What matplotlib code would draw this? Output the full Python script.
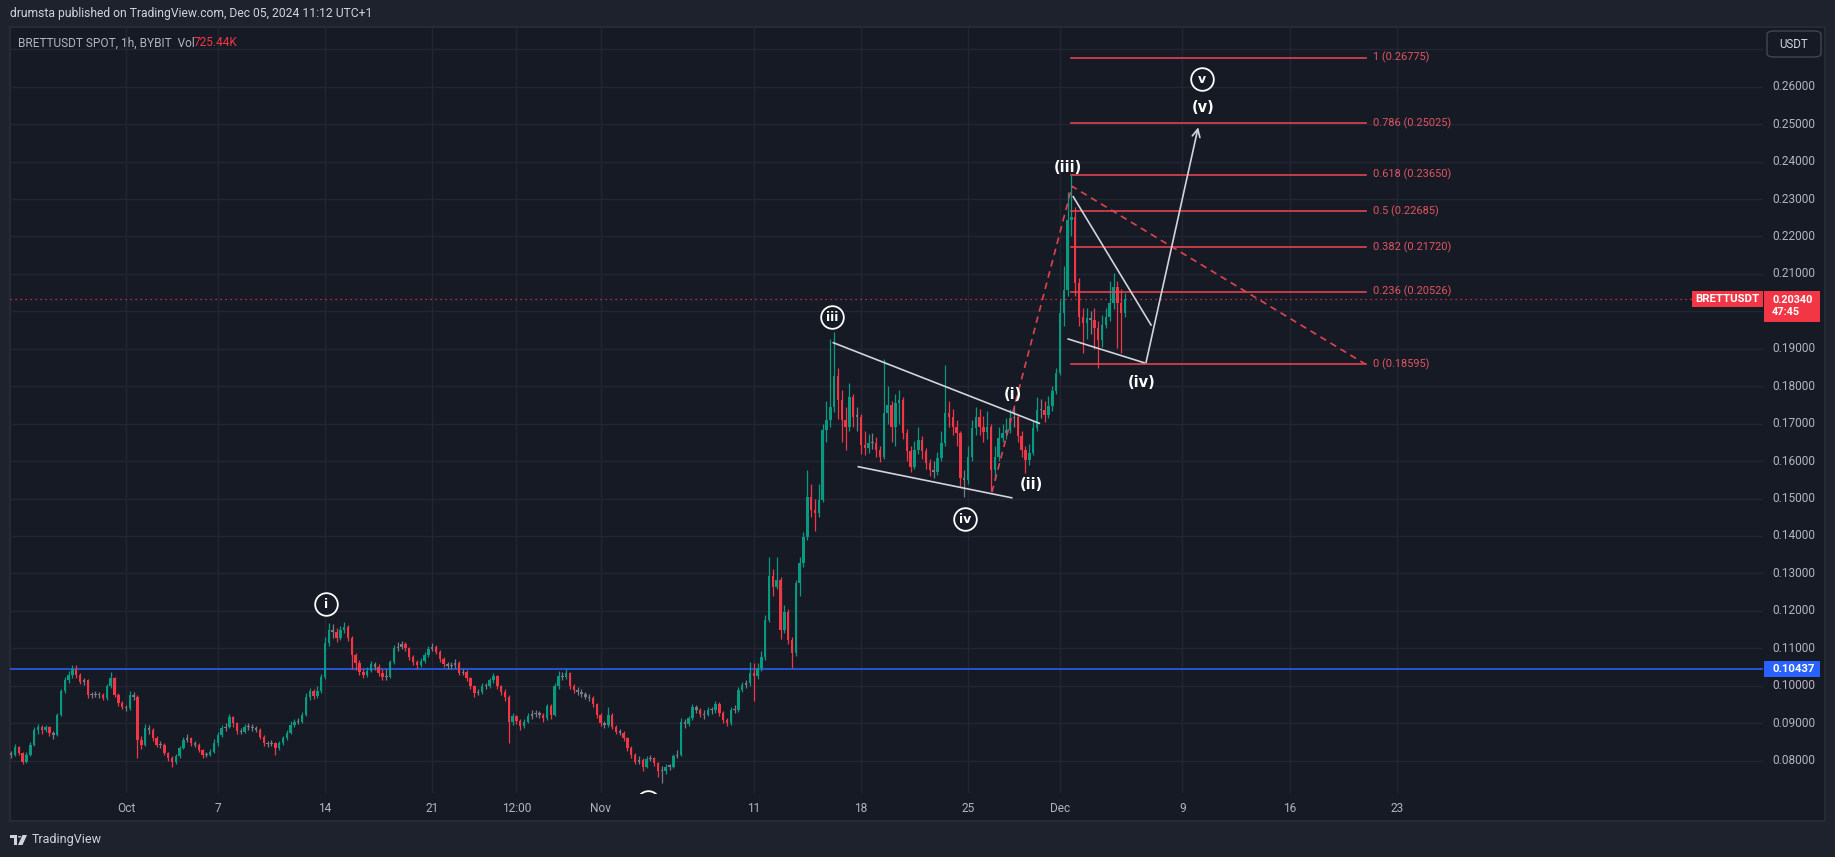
import matplotlib
matplotlib.use('Agg')
import matplotlib.pyplot as plt
from matplotlib.patches import Rectangle, FancyBboxPatch, Polygon, Circle
from matplotlib.transforms import blended_transform_factory
import numpy as np

# ---------------- data (6h candles) ----------------
first_open = 0.0820
closes = [
    0.0815, 0.0837, 0.0820, 0.0797, 0.0815, 0.0842, 0.0882, 0.0891, 0.0882, 0.0891,
    0.0873, 0.0869, 0.0922, 0.0985, 0.1015, 0.1029, 0.1044, 0.1029, 0.1011, 0.1015,
    0.0975, 0.0975, 0.0975, 0.0975, 0.0966, 0.0998, 0.1020, 0.0975, 0.0953, 0.0944,
    0.0940, 0.0975, 0.0971, 0.0855, 0.0842, 0.0886, 0.0882, 0.0860, 0.0842, 0.0842,
    0.0820, 0.0806, 0.0797, 0.0811, 0.0833, 0.0855, 0.0860, 0.0846, 0.0842, 0.0828,
    0.0815, 0.0815, 0.0824, 0.0846, 0.0869, 0.0886, 0.0891, 0.0916, 0.0900, 0.0880,
    0.0877, 0.0889, 0.0891, 0.0886, 0.0882, 0.0864, 0.0846, 0.0844, 0.0846, 0.0833,
    0.0846, 0.0860, 0.0875, 0.0895, 0.0904, 0.0904, 0.0922, 0.0971, 0.0987, 0.0973,
    0.0985, 0.1024, 0.1113, 0.1149, 0.1144, 0.1127, 0.1149, 0.1158, 0.1127, 0.1082,
    0.1060, 0.1038, 0.1029, 0.1040, 0.1058, 0.1051, 0.1035, 0.1024, 0.1024, 0.1064,
    0.1100, 0.1104, 0.1111, 0.1100, 0.1078, 0.1064, 0.1055, 0.1067, 0.1082, 0.1097,
    0.1104, 0.1091, 0.1071, 0.1058, 0.1053, 0.1055, 0.1062, 0.1035, 0.1038, 0.1020,
    0.0998, 0.0980, 0.0984, 0.0999, 0.0998, 0.1015, 0.1026, 0.0999, 0.0984, 0.0971,
    0.0904, 0.0918, 0.0907, 0.0893, 0.0904, 0.0918, 0.0925, 0.0927, 0.0922, 0.0913,
    0.0946, 0.0922, 0.0998, 0.1027, 0.1024, 0.1033, 0.0998, 0.0989, 0.0984, 0.0977,
    0.0971, 0.0966, 0.0951, 0.0922, 0.0900, 0.0895, 0.0922, 0.0891, 0.0877, 0.0875,
    0.0860, 0.0833, 0.0815, 0.0797, 0.0802, 0.0784, 0.0804, 0.0806, 0.0793, 0.0771,
    0.0773, 0.0784, 0.0784, 0.0811, 0.0816, 0.0904, 0.0898, 0.0913, 0.0943, 0.0936,
    0.0925, 0.0922, 0.0934, 0.0934, 0.0952, 0.0928, 0.0909, 0.0900, 0.0934, 0.0936,
    0.0989, 0.1002, 0.1007, 0.1034, 0.1025, 0.1047, 0.1078, 0.1176, 0.1292, 0.1265,
    0.1283, 0.1149, 0.1198, 0.1123, 0.1087, 0.1274, 0.1327, 0.1398, 0.1505, 0.1470,
    0.1461, 0.1496, 0.1683, 0.1710, 0.1745, 0.1826, 0.1763, 0.1710, 0.1692, 0.1772,
    0.1719, 0.1719, 0.1643, 0.1634, 0.1648, 0.1648, 0.1630, 0.1612, 0.1728, 0.1750,
    0.1692, 0.1755, 0.1763, 0.1674, 0.1626, 0.1585, 0.1630, 0.1657, 0.1626, 0.1594,
    0.1577, 0.1572, 0.1608, 0.1648, 0.1728, 0.1719, 0.1692, 0.1674, 0.1554, 0.1550,
    0.1612, 0.1688, 0.1719, 0.1692, 0.1679, 0.1692, 0.1577, 0.1612, 0.1661, 0.1674,
    0.1683, 0.1715, 0.1719, 0.1666, 0.1630, 0.1603, 0.1621, 0.1688, 0.1737, 0.1737,
    0.1723, 0.1746, 0.1786, 0.1835, 0.1995, 0.2057, 0.2244, 0.2253, 0.2075, 0.1986,
    0.1968, 0.1982, 0.1977, 0.1955, 0.1924, 0.1964, 0.1986, 0.2022, 0.2066, 0.2022,
    0.1995, 0.2034,
]
highs = [
    0.0826, 0.0845, 0.0840, 0.0824, 0.0822, 0.0849, 0.0890, 0.0897, 0.0895, 0.0896,
    0.0893, 0.0880, 0.0928, 0.0992, 0.1024, 0.1040, 0.1056, 0.1055, 0.1033, 0.1022,
    0.1018, 0.0984, 0.0986, 0.0982, 0.0980, 0.1004, 0.1037, 0.1024, 0.0980, 0.0958,
    0.0949, 0.0985, 0.0982, 0.0975, 0.0866, 0.0898, 0.0896, 0.0888, 0.0866, 0.0852,
    0.0846, 0.0824, 0.0812, 0.0818, 0.0840, 0.0862, 0.0870, 0.0864, 0.0852, 0.0846,
    0.0832, 0.0822, 0.0830, 0.0858, 0.0876, 0.0894, 0.0900, 0.0925, 0.0920, 0.0904,
    0.0888, 0.0898, 0.0900, 0.0897, 0.0893, 0.0886, 0.0868, 0.0852, 0.0854, 0.0850,
    0.0852, 0.0866, 0.0882, 0.0906, 0.0912, 0.0915, 0.0930, 0.0980, 0.0995, 0.0990,
    0.0998, 0.1032, 0.1130, 0.1167, 0.1165, 0.1155, 0.1160, 0.1170, 0.1162, 0.1132,
    0.1088, 0.1068, 0.1046, 0.1050, 0.1066, 0.1064, 0.1058, 0.1045, 0.1044, 0.1070,
    0.1108, 0.1116, 0.1120, 0.1118, 0.1104, 0.1082, 0.1070, 0.1074, 0.1090, 0.1106,
    0.1114, 0.1110, 0.1096, 0.1076, 0.1064, 0.1064, 0.1072, 0.1066, 0.1046, 0.1042,
    0.1024, 0.1002, 0.0992, 0.1006, 0.1008, 0.1022, 0.1035, 0.1030, 0.1003, 0.0990,
    0.0975, 0.0926, 0.0922, 0.0912, 0.0912, 0.0926, 0.0934, 0.0936, 0.0932, 0.0926,
    0.0952, 0.0950, 0.1006, 0.1040, 0.1038, 0.1046, 0.1038, 0.1004, 0.0996, 0.0990,
    0.0984, 0.0978, 0.0972, 0.0955, 0.0926, 0.0906, 0.0942, 0.0926, 0.0896, 0.0884,
    0.0878, 0.0864, 0.0838, 0.0820, 0.0812, 0.0806, 0.0812, 0.0816, 0.0810, 0.0796,
    0.0786, 0.0792, 0.0790, 0.0818, 0.0828, 0.0915, 0.0912, 0.0920, 0.0952, 0.0948,
    0.0940, 0.0934, 0.0944, 0.0942, 0.0960, 0.0956, 0.0932, 0.0914, 0.0944, 0.0948,
    0.0996, 0.1010, 0.1016, 0.1064, 0.1060, 0.1060, 0.1092, 0.1190, 0.1345, 0.1312,
    0.1345, 0.1290, 0.1215, 0.1205, 0.1130, 0.1282, 0.1345, 0.1410, 0.1576, 0.1540,
    0.1500, 0.1540, 0.1700, 0.1760, 0.1925, 0.1946, 0.1850, 0.1790, 0.1745, 0.1808,
    0.1780, 0.1745, 0.1725, 0.1680, 0.1672, 0.1676, 0.1665, 0.1640, 0.1872, 0.1800,
    0.1760, 0.1780, 0.1790, 0.1770, 0.1685, 0.1640, 0.1655, 0.1690, 0.1668, 0.1635,
    0.1605, 0.1600, 0.1625, 0.1680, 0.1857, 0.1760, 0.1740, 0.1710, 0.1680, 0.1575,
    0.1640, 0.1710, 0.1745, 0.1740, 0.1720, 0.1735, 0.1700, 0.1640, 0.1690, 0.1700,
    0.1715, 0.1740, 0.1750, 0.1725, 0.1680, 0.1640, 0.1645, 0.1710, 0.1770, 0.1765,
    0.1760, 0.1775, 0.1800, 0.1850, 0.2030, 0.2120, 0.2320, 0.2364, 0.2280, 0.2090,
    0.2010, 0.2010, 0.2000, 0.2010, 0.1975, 0.1990, 0.2010, 0.2080, 0.2102, 0.2080,
    0.2060, 0.2050,
]
lows = [
    0.0808, 0.0812, 0.0814, 0.0790, 0.0794, 0.0812, 0.0838, 0.0872, 0.0871, 0.0876,
    0.0866, 0.0858, 0.0866, 0.0918, 0.0980, 0.1008, 0.1022, 0.1020, 0.1004, 0.1002,
    0.0966, 0.0968, 0.0969, 0.0966, 0.0962, 0.0962, 0.0994, 0.0970, 0.0946, 0.0937,
    0.0932, 0.0936, 0.0962, 0.0806, 0.0830, 0.0838, 0.0872, 0.0852, 0.0836, 0.0834,
    0.0814, 0.0798, 0.0784, 0.0792, 0.0808, 0.0830, 0.0850, 0.0838, 0.0836, 0.0822,
    0.0808, 0.0809, 0.0811, 0.0820, 0.0840, 0.0862, 0.0878, 0.0886, 0.0890, 0.0872,
    0.0870, 0.0873, 0.0882, 0.0879, 0.0876, 0.0857, 0.0838, 0.0837, 0.0838, 0.0815,
    0.0828, 0.0842, 0.0855, 0.0870, 0.0890, 0.0897, 0.0900, 0.0918, 0.0962, 0.0964,
    0.0968, 0.0980, 0.1018, 0.1105, 0.1128, 0.1118, 0.1122, 0.1140, 0.1120, 0.1044,
    0.1042, 0.1030, 0.1020, 0.1024, 0.1036, 0.1042, 0.1026, 0.1016, 0.1016, 0.1020,
    0.1058, 0.1094, 0.1098, 0.1092, 0.1070, 0.1056, 0.1044, 0.1050, 0.1062, 0.1078,
    0.1094, 0.1084, 0.1064, 0.1050, 0.1044, 0.1046, 0.1048, 0.1028, 0.1028, 0.1012,
    0.0990, 0.0970, 0.0974, 0.0978, 0.0990, 0.0994, 0.1008, 0.0992, 0.0975, 0.0960,
    0.0846, 0.0896, 0.0898, 0.0882, 0.0886, 0.0900, 0.0912, 0.0916, 0.0914, 0.0904,
    0.0908, 0.0910, 0.0918, 0.0992, 0.1016, 0.1018, 0.0990, 0.0980, 0.0976, 0.0970,
    0.0964, 0.0958, 0.0944, 0.0914, 0.0892, 0.0886, 0.0890, 0.0884, 0.0870, 0.0868,
    0.0852, 0.0826, 0.0808, 0.0790, 0.0792, 0.0772, 0.0780, 0.0798, 0.0786, 0.0755,
    0.0740, 0.0764, 0.0776, 0.0780, 0.0806, 0.0812, 0.0886, 0.0892, 0.0908, 0.0926,
    0.0916, 0.0912, 0.0918, 0.0924, 0.0928, 0.0920, 0.0900, 0.0892, 0.0896, 0.0926,
    0.0930, 0.0982, 0.0994, 0.1000, 0.0958, 0.1018, 0.1040, 0.1070, 0.1170, 0.1240,
    0.1258, 0.1126, 0.1140, 0.1112, 0.1047, 0.1080, 0.1240, 0.1318, 0.1390, 0.1450,
    0.1412, 0.1450, 0.1490, 0.1650, 0.1690, 0.1730, 0.1712, 0.1650, 0.1630, 0.1680,
    0.1690, 0.1680, 0.1618, 0.1615, 0.1622, 0.1632, 0.1612, 0.1598, 0.1605, 0.1700,
    0.1650, 0.1640, 0.1700, 0.1660, 0.1600, 0.1570, 0.1578, 0.1620, 0.1605, 0.1580,
    0.1560, 0.1555, 0.1562, 0.1600, 0.1640, 0.1690, 0.1670, 0.1640, 0.1530, 0.1505,
    0.1540, 0.1600, 0.1670, 0.1670, 0.1650, 0.1660, 0.1519, 0.1550, 0.1600, 0.1650,
    0.1660, 0.1675, 0.1690, 0.1650, 0.1610, 0.1568, 0.1590, 0.1615, 0.1680, 0.1715,
    0.1705, 0.1715, 0.1735, 0.1780, 0.1830, 0.1960, 0.2040, 0.2200, 0.2040, 0.1960,
    0.1890, 0.1925, 0.1940, 0.1900, 0.1850, 0.1905, 0.1955, 0.1975, 0.2005, 0.1901,
    0.1890, 0.1985,
]
start_day = -7.5          # days from Oct 1 00:00 (first candle: Sep 23 12:00)
candle_days = 0.25        # 6h candles

# 0.20000 is hidden behind the last-price label in the reference
price_labels = [0.08, 0.09, 0.10, 0.11, 0.12, 0.13, 0.14, 0.15, 0.16, 0.17, 0.18,
                0.19, 0.21, 0.22, 0.23, 0.24, 0.25, 0.26]
grid_prices = [0.08, 0.09, 0.10, 0.11, 0.12, 0.13, 0.14, 0.15, 0.16, 0.17, 0.18,
               0.19, 0.20, 0.21, 0.22, 0.23, 0.24, 0.25, 0.26, 0.27]
time_ticks = [0, 6, 13, 20, 25.5, 31, 41, 48, 55, 61, 69, 76, 83]
time_labels = ['Oct', '7', '14', '21', '12:00', 'Nov', '11', '18', '25', 'Dec', '9', '16', '23']

fib_ratios = ['1', '0.786', '0.618', '0.5', '0.382', '0.236', '0']
fib_prices = [0.26775, 0.25025, 0.23650, 0.22685, 0.21720, 0.20526, 0.18595]
fib_x = (61.72, 81.0)

last_price = 0.20340
countdown = '47:45'
hline_price = 0.10437

# drawings (day, price)
wedge1_upper = ([46.2, 59.65], [0.19162, 0.1701])
wedge1_lower = ([47.83, 57.85], [0.1585, 0.1502])
wedge2_upper = ([61.87, 66.95], [0.23062, 0.19635])
wedge2_lower = ([61.54, 66.49], [0.19261, 0.18628])
arrow_from = (66.62, 0.18628)
arrow_to = (70.03, 0.24916)
fib_tool = ([56.56, 61.79, 80.93], [0.1517, 0.2334, 0.18595])

circled = [('i', 13.09, 0.1218), ('iii', 46.1, 0.1984), ('iv', 54.82, 0.1445),
           ('v', 70.26, 0.2620), ('ii', 34.1, 0.0689)]
paren = [('(i)', 57.95, 0.1778), ('(ii)', 59.16, 0.1538), ('(iii)', 61.51, 0.2384),
         ('(iv)', 66.35, 0.1809), ('(v)', 70.37, 0.2544)]

# ---------------- figure ----------------
W, H = 1835, 857
BG_OUT = '#1e222d'
BG_PANE = '#161a25'
GRID = '#232632'
TXT = '#b2b5be'
RED = '#f23645'
GREEN = '#089981'
GRAY = '#787b86'
FIB = '#e0434f'
WHITE_LN = '#d1d4dc'
FONT = ['Roboto', 'DejaVu Sans']

plt.rcParams['font.family'] = FONT
fig = plt.figure(figsize=(W / 100, H / 100), dpi=100, facecolor=BG_OUT)


def fx(px):
    return px / W


def fy(py):
    return 1 - py / H


def frect(x0, y0, x1, y1, **kw):
    r = Rectangle((fx(x0), fy(y1)), fx(x1) - fx(x0), fy(y0) - fy(y1),
                  transform=fig.transFigure, **kw)
    fig.patches.append(r)
    return r


# pane background + border
frect(10, 27, 1825, 821, facecolor=BG_PANE, edgecolor='#2a2e39', lw=1.2, zorder=-10)

ax = fig.add_axes([fx(10), fy(793), fx(1763) - fx(10), fy(27) - fy(793)])
ax.set_zorder(1)
ax.set_facecolor('none')
ax.patch.set_alpha(0)
ax.set_xlim(-7.577, 106.92)
ax.set_ylim(0.07135, 0.27595)
for s in ax.spines.values():
    s.set_visible(False)
ax.set_xticks([])
ax.set_yticks([])

# grid
for p in grid_prices:
    ax.axhline(p, color=GRID, lw=1, zorder=0)
for t in time_ticks:
    ax.axvline(t, color=GRID, lw=1, zorder=0)

# candles
c = np.array(closes)
o = np.concatenate([[first_open], c[:-1]])
hi = np.array(highs)
lo = np.array(lows)
x = start_day + candle_days * np.arange(len(c))
cols = []
for oo, cc in zip(o, c):
    if abs(cc - oo) < 0.0008:
        cols.append(GRAY)
    elif cc > oo:
        cols.append(GREEN)
    else:
        cols.append(RED)
ax.vlines(x, lo, hi, colors=cols, lw=0.9, zorder=3)
ax.bar(x, np.maximum(np.abs(c - o), 0.0003), bottom=np.minimum(o, c), width=0.16,
       color=cols, linewidth=0, zorder=3)

# horizontal lines
ax.axhline(hline_price, color='#2962ff', lw=1.1, zorder=2)
ax.axhline(last_price, color=RED, lw=0.9, ls=(0, (1, 3)), zorder=2)

# fib levels
for r, p in zip(fib_ratios, fib_prices):
    ax.plot(fib_x, [p, p], color=FIB, lw=1.2, zorder=4)
    ax.text(81.45, p, f'{r} ({p:.5f})', color='#e0555f', fontsize=7.9,
            va='center', ha='left', zorder=5)
ax.plot(fib_tool[0], fib_tool[1], color=FIB, lw=1.2, ls=(0, (4, 3)), zorder=4)

# wedges and arrow
for xs, ys in [wedge1_upper, wedge1_lower, wedge2_upper, wedge2_lower]:
    ax.plot(xs, ys, color=WHITE_LN, lw=1.2, zorder=5)
ax.annotate('', xy=arrow_to, xytext=arrow_from,
            arrowprops=dict(arrowstyle='->', color=WHITE_LN, lw=1.2,
                            mutation_scale=14, shrinkA=0, shrinkB=0), zorder=5)

# wave labels
for txt, d, p in circled:
    ax.plot(d, p, marker='o', ms=16.3, mfc=BG_PANE, mec='white', mew=1.3, zorder=6)
    ax.text(d, p, txt, color='white', fontsize=9, fontweight='bold',
            family='DejaVu Sans', ha='center', va='center', zorder=7, clip_on=True)
for txt, d, p in paren:
    ax.text(d, p, txt, color='white', fontsize=10.5, fontweight='bold',
            family='DejaVu Sans', ha='center', va='center', zorder=7)

# price scale labels
ytr = blended_transform_factory(fig.transFigure, ax.transData)
for p in price_labels:
    ax.text(fx(1772), p, f'{p:.5f}', transform=ytr, color=TXT, fontsize=8.6,
            va='center', ha='left', clip_on=False)

# time labels
xtr = blended_transform_factory(ax.transData, fig.transFigure)
for t, lab in zip(time_ticks, time_labels):
    ax.text(t, fy(808), lab, transform=xtr, color=TXT, fontsize=8.6,
            va='center', ha='center', clip_on=False)

# price labels boxes
frect(1692, 291, 1763, 307, facecolor=RED, edgecolor='none', zorder=10)
fig.text(fx(1727.5), fy(299), 'BRETTUSDT', color='white', fontsize=8.2,
         fontweight='bold', ha='center', va='center', zorder=11)
frect(1764, 291, 1820, 322, facecolor=RED, edgecolor='none', zorder=10)
fig.text(fx(1772), fy(306.5), f'{last_price:.5f}\n{countdown}', color='white',
         fontsize=7.8, fontweight='bold', ha='left', va='center',
         linespacing=1.25, zorder=11)
frect(1764, 661, 1820, 677, facecolor='#2962ff', edgecolor='none', zorder=10)
fig.text(fx(1772), fy(669), f'{hline_price:.5f}', color='white', fontsize=8.2,
         fontweight='bold', ha='left', va='center', zorder=11)

# USDT button
btn = FancyBboxPatch((fx(1767), fy(57)), fx(1821) - fx(1767), fy(31) - fy(57),
                     boxstyle='round,pad=0,rounding_size=0.004',
                     transform=fig.transFigure, facecolor=BG_PANE,
                     edgecolor='#434651', lw=1, zorder=10)
fig.patches.append(btn)
fig.text(fx(1794), fy(44.5), 'USDT', color='#d1d4dc', fontsize=8.3,
         ha='center', va='center', zorder=11)

# header texts
fig.text(fx(10), fy(14), 'drumsta published on TradingView.com, Dec 05, 2024 11:12 UTC+1',
         color='#d1d4dc', fontsize=8.7, ha='left', va='center')
fig.text(fx(18), fy(43), 'BRETTUSDT SPOT, 1h, BYBIT  Vol', color=TXT,
         fontsize=8.6, ha='left', va='center', zorder=11)
fig.text(fx(193.5), fy(43), '725.44K', color=RED, fontsize=8.6,
         ha='left', va='center', zorder=11)

# TradingView logo
logo_col = '#d1d4dc'
frect(10, 835, 17, 838, facecolor=logo_col, edgecolor='none')
frect(13.5, 835, 17, 845, facecolor=logo_col, edgecolor='none')
fig.patches.append(Circle((fx(19.5), fy(836.8)), 1.6 / W, transform=fig.transFigure,
                          facecolor=logo_col, edgecolor='none'))
fig.patches.append(Polygon([(fx(18), fy(845)), (fx(22.5), fy(835)), (fx(27), fy(835)),
                            (fx(22.5), fy(845))], closed=True, transform=fig.transFigure,
                           facecolor=logo_col, edgecolor='none'))
fig.text(fx(32), fy(840), 'TradingView', color=logo_col, fontsize=9,
         ha='left', va='center')

fig.savefig('out.png', dpi=100, facecolor=BG_OUT)
